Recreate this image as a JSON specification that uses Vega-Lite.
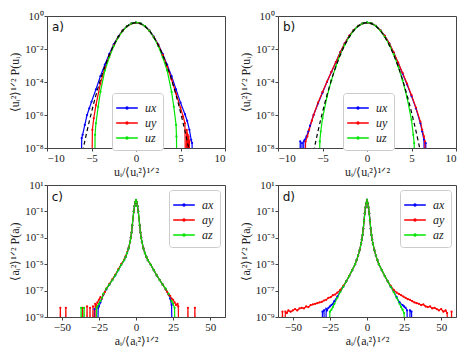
{
"$schema": "https://vega.github.io/schema/vega-lite/v6.json",
"padding": {"left": 7, "top": 9, "right": 5, "bottom": 2},
"datasets": {
"a": [
{"s":"ux","x":-6.2,"p":1e-12},{"s":"ux","x":-6.1,"p":3.98e-8},{"s":"ux","x":-6.0,"p":6.31e-8},{"s":"ux","x":-5.75,"p":2.51e-7},{"s":"ux","x":-5.5,"p":1e-6},{"s":"ux","x":-5.25,"p":2.51e-6},{"s":"ux","x":-5,"p":6.31e-6},{"s":"ux","x":-4.5,"p":3.55e-5},{"s":"ux","x":-4,"p":2.24e-4},{"s":"ux","x":-3.5,"p":1.12e-3},{"s":"ux","x":-3,"p":5.01e-3},{"s":"ux","x":-2.5,"p":0.0191},{"s":"ux","x":-2,"p":0.0562},{"s":"ux","x":-1.5,"p":0.132},{"s":"ux","x":-1,"p":0.245},{"s":"ux","x":-0.5,"p":0.355},{"s":"ux","x":0,"p":0.398},{"s":"ux","x":0.5,"p":0.355},{"s":"ux","x":1,"p":0.245},{"s":"ux","x":1.5,"p":0.132},{"s":"ux","x":2,"p":0.0562},{"s":"ux","x":2.5,"p":0.0186},{"s":"ux","x":3,"p":5.01e-3},{"s":"ux","x":3.5,"p":1.12e-3},{"s":"ux","x":4,"p":2.24e-4},{"s":"ux","x":4.5,"p":3.55e-5},{"s":"ux","x":5,"p":5.62e-6},{"s":"ux","x":5.5,"p":1.12e-6},{"s":"ux","x":5.75,"p":4.47e-7},{"s":"ux","x":6,"p":1.26e-7},{"s":"ux","x":6.2,"p":3.16e-8},{"s":"ux","x":6.3,"p":2e-8},{"s":"ux","x":6.4,"p":1e-12},
{"s":"uy","x":-5.0,"p":1e-12},{"s":"uy","x":-4.9,"p":1.26e-7},{"s":"uy","x":-4.75,"p":6.31e-7},{"s":"uy","x":-4.5,"p":3.98e-6},{"s":"uy","x":-4,"p":7.94e-5},{"s":"uy","x":-3.5,"p":7.08e-4},{"s":"uy","x":-3,"p":3.98e-3},{"s":"uy","x":-2.5,"p":0.0166},{"s":"uy","x":-2,"p":0.0525},{"s":"uy","x":-1.5,"p":0.129},{"s":"uy","x":-1,"p":0.24},{"s":"uy","x":-0.5,"p":0.347},{"s":"uy","x":0,"p":0.398},{"s":"uy","x":0.5,"p":0.347},{"s":"uy","x":1,"p":0.24},{"s":"uy","x":1.5,"p":0.129},{"s":"uy","x":2,"p":0.0537},{"s":"uy","x":2.5,"p":0.0178},{"s":"uy","x":3,"p":4.47e-3},{"s":"uy","x":3.5,"p":8.91e-4},{"s":"uy","x":4,"p":1.41e-4},{"s":"uy","x":4.5,"p":2e-5},{"s":"uy","x":5,"p":2.82e-6},{"s":"uy","x":5.3,"p":7.94e-7},{"s":"uy","x":5.5,"p":3.16e-7},{"s":"uy","x":5.6,"p":1e-12},{"s":"uy","x":5.7,"p":1.26e-7},{"s":"uy","x":5.8,"p":6.31e-8},{"s":"uy","x":5.85,"p":1e-12},{"s":"uy","x":5.9,"p":5.01e-8},{"s":"uy","x":6,"p":2.51e-8},{"s":"uy","x":6.05,"p":1e-12},
{"s":"uz","x":-4.65,"p":1e-12},{"s":"uz","x":-4.6,"p":6.31e-8},{"s":"uz","x":-4.5,"p":3.16e-7},{"s":"uz","x":-4.25,"p":3.16e-6},{"s":"uz","x":-4,"p":2.51e-5},{"s":"uz","x":-3.5,"p":5.01e-4},{"s":"uz","x":-3,"p":3.16e-3},{"s":"uz","x":-2.5,"p":0.0151},{"s":"uz","x":-2,"p":0.0501},{"s":"uz","x":-1.5,"p":0.126},{"s":"uz","x":-1,"p":0.24},{"s":"uz","x":-0.5,"p":0.355},{"s":"uz","x":0,"p":0.407},{"s":"uz","x":0.5,"p":0.355},{"s":"uz","x":1,"p":0.24},{"s":"uz","x":1.5,"p":0.126},{"s":"uz","x":2,"p":0.0501},{"s":"uz","x":2.5,"p":0.0151},{"s":"uz","x":3,"p":3.16e-3},{"s":"uz","x":3.5,"p":5.01e-4},{"s":"uz","x":4,"p":2.51e-5},{"s":"uz","x":4.25,"p":3.16e-6},{"s":"uz","x":4.5,"p":2.51e-7},{"s":"uz","x":4.55,"p":5.01e-8},{"s":"uz","x":4.6,"p":1e-12}
],
"g": [
{"x":-6,"p":6.08e-9},{"x":-5.75,"p":2.64e-8},{"x":-5.5,"p":1.08e-7},{"x":-5.25,"p":4.1e-7},{"x":-5,"p":1.49e-6},{"x":-4.75,"p":5.02e-6},{"x":-4.5,"p":1.6e-5},{"x":-4.25,"p":4.78e-5},{"x":-4,"p":1.34e-4},{"x":-3.75,"p":3.53e-4},{"x":-3.5,"p":8.73e-4},{"x":-3,"p":4.43e-3},{"x":-2.5,"p":0.0175},{"x":-2,"p":0.054},{"x":-1.5,"p":0.1295},{"x":-1,"p":0.242},{"x":-0.5,"p":0.352},{"x":0,"p":0.399},{"x":0.5,"p":0.352},{"x":1,"p":0.242},{"x":1.5,"p":0.1295},{"x":2,"p":0.054},{"x":2.5,"p":0.0175},{"x":3,"p":4.43e-3},{"x":3.5,"p":8.73e-4},{"x":3.75,"p":3.53e-4},{"x":4,"p":1.34e-4},{"x":4.25,"p":4.78e-5},{"x":4.5,"p":1.6e-5},{"x":4.75,"p":5.02e-6},{"x":5,"p":1.49e-6},{"x":5.25,"p":4.1e-7},{"x":5.5,"p":1.08e-7},{"x":5.75,"p":2.64e-8},{"x":6,"p":6.08e-9}
],
"b": [
{"s":"ux","x":-7.6,"p":1e-12},{"s":"ux","x":-7.5,"p":2.51e-8},{"s":"ux","x":-7.4,"p":1e-12},{"s":"ux","x":-7.3,"p":2e-8},{"s":"ux","x":-7.2,"p":1e-12},{"s":"ux","x":-7.1,"p":2.51e-8},{"s":"ux","x":-7,"p":3.16e-8},{"s":"ux","x":-6.8,"p":5.01e-8},{"s":"ux","x":-6.6,"p":1e-7},{"s":"ux","x":-6.4,"p":2.24e-7},{"s":"ux","x":-6,"p":1e-6},{"s":"ux","x":-5.5,"p":5.01e-6},{"s":"ux","x":-5,"p":2.24e-5},{"s":"ux","x":-4.5,"p":1e-4},{"s":"ux","x":-4,"p":3.98e-4},{"s":"ux","x":-3.5,"p":1.58e-3},{"s":"ux","x":-3,"p":6.31e-3},{"s":"ux","x":-2.5,"p":0.0219},{"s":"ux","x":-2,"p":0.0631},{"s":"ux","x":-1.5,"p":0.141},{"s":"ux","x":-1,"p":0.251},{"s":"ux","x":-0.5,"p":0.355},{"s":"ux","x":0,"p":0.398},{"s":"ux","x":0.5,"p":0.355},{"s":"ux","x":1,"p":0.251},{"s":"ux","x":1.5,"p":0.141},{"s":"ux","x":2,"p":0.0631},{"s":"ux","x":2.5,"p":0.0219},{"s":"ux","x":3,"p":6.03e-3},{"s":"ux","x":3.5,"p":1.41e-3},{"s":"ux","x":4,"p":3.16e-4},{"s":"ux","x":4.5,"p":7.08e-5},{"s":"ux","x":5,"p":1.41e-5},{"s":"ux","x":5.5,"p":2.51e-6},{"s":"ux","x":6,"p":3.16e-7},{"s":"ux","x":6.2,"p":1e-7},{"s":"ux","x":6.4,"p":3.16e-8},{"s":"ux","x":6.5,"p":1e-12},{"s":"ux","x":6.6,"p":2e-8},{"s":"ux","x":6.7,"p":1e-12},
{"s":"uy","x":-7,"p":1e-12},{"s":"uy","x":-6.9,"p":2.51e-8},{"s":"uy","x":-6.7,"p":5.01e-8},{"s":"uy","x":-6.5,"p":1.26e-7},{"s":"uy","x":-6.2,"p":4.47e-7},{"s":"uy","x":-6,"p":1e-6},{"s":"uy","x":-5.5,"p":5.62e-6},{"s":"uy","x":-5,"p":2.51e-5},{"s":"uy","x":-4.5,"p":1.05e-4},{"s":"uy","x":-4,"p":4.17e-4},{"s":"uy","x":-3.5,"p":1.58e-3},{"s":"uy","x":-3,"p":6.31e-3},{"s":"uy","x":-2.5,"p":0.0219},{"s":"uy","x":-2,"p":0.0631},{"s":"uy","x":-1.5,"p":0.141},{"s":"uy","x":-1,"p":0.251},{"s":"uy","x":-0.5,"p":0.355},{"s":"uy","x":0,"p":0.398},{"s":"uy","x":0.5,"p":0.355},{"s":"uy","x":1,"p":0.251},{"s":"uy","x":1.5,"p":0.141},{"s":"uy","x":2,"p":0.0631},{"s":"uy","x":2.5,"p":0.0219},{"s":"uy","x":3,"p":6.31e-3},{"s":"uy","x":3.5,"p":1.48e-3},{"s":"uy","x":4,"p":3.55e-4},{"s":"uy","x":4.5,"p":7.94e-5},{"s":"uy","x":5,"p":1.58e-5},{"s":"uy","x":5.5,"p":2.82e-6},{"s":"uy","x":6,"p":3.98e-7},{"s":"uy","x":6.2,"p":1.26e-7},{"s":"uy","x":6.4,"p":5.01e-8},{"s":"uy","x":6.5,"p":2.51e-8},{"s":"uy","x":6.6,"p":1e-12},
{"s":"uz","x":-5.4,"p":1e-12},{"s":"uz","x":-5.3,"p":2.51e-8},{"s":"uz","x":-5.2,"p":1e-7},{"s":"uz","x":-5,"p":6.31e-7},{"s":"uz","x":-4.5,"p":1.26e-5},{"s":"uz","x":-4,"p":1.26e-4},{"s":"uz","x":-3.5,"p":8.91e-4},{"s":"uz","x":-3,"p":4.79e-3},{"s":"uz","x":-2.5,"p":0.0182},{"s":"uz","x":-2,"p":0.055},{"s":"uz","x":-1.5,"p":0.132},{"s":"uz","x":-1,"p":0.245},{"s":"uz","x":-0.5,"p":0.355},{"s":"uz","x":0,"p":0.407},{"s":"uz","x":0.5,"p":0.355},{"s":"uz","x":1,"p":0.245},{"s":"uz","x":1.5,"p":0.132},{"s":"uz","x":2,"p":0.055},{"s":"uz","x":2.5,"p":0.0182},{"s":"uz","x":3,"p":4.79e-3},{"s":"uz","x":3.5,"p":8.91e-4},{"s":"uz","x":4,"p":1.26e-4},{"s":"uz","x":4.5,"p":1.12e-5},{"s":"uz","x":5,"p":5.01e-7},{"s":"uz","x":5.2,"p":6.31e-8},{"s":"uz","x":5.3,"p":2e-8},{"s":"uz","x":5.4,"p":1e-12}
],
"c": [
{"s":"ax","x":-28.5,"p":1e-12},{"s":"ax","x":-28,"p":3.98e-9},{"s":"ax","x":-27.5,"p":1e-12},{"s":"ax","x":-26,"p":1e-12},{"s":"ax","x":-25.5,"p":5.01e-9},{"s":"ax","x":-25,"p":6.31e-9},{"s":"ax","x":-24,"p":1.26e-8},{"s":"ax","x":-23,"p":2.51e-8},{"s":"ax","x":-22,"p":5.01e-8},{"s":"ax","x":-20,"p":1.26e-7},{"s":"ax","x":-18,"p":2.82e-7},{"s":"ax","x":-16,"p":6.31e-7},{"s":"ax","x":-14,"p":1.41e-6},{"s":"ax","x":-12,"p":3.55e-6},{"s":"ax","x":-10,"p":8.91e-6},{"s":"ax","x":-8,"p":2e-5},{"s":"ax","x":-7,"p":3.55e-5},{"s":"ax","x":-6,"p":7.08e-5},{"s":"ax","x":-5,"p":1.58e-4},{"s":"ax","x":-4,"p":5.01e-4},{"s":"ax","x":-3.5,"p":1e-3},{"s":"ax","x":-3,"p":2.51e-3},{"s":"ax","x":-2.5,"p":8.91e-3},{"s":"ax","x":-2,"p":0.0316},{"s":"ax","x":-1.5,"p":0.1},{"s":"ax","x":-1,"p":0.251},{"s":"ax","x":-0.5,"p":0.501},{"s":"ax","x":0,"p":0.708},{"s":"ax","x":0.5,"p":0.501},{"s":"ax","x":1,"p":0.251},{"s":"ax","x":1.5,"p":0.1},{"s":"ax","x":2,"p":0.0316},{"s":"ax","x":2.5,"p":8.91e-3},{"s":"ax","x":3,"p":2.51e-3},{"s":"ax","x":3.5,"p":1e-3},{"s":"ax","x":4,"p":5.01e-4},{"s":"ax","x":5,"p":1.58e-4},{"s":"ax","x":6,"p":7.08e-5},{"s":"ax","x":7,"p":3.55e-5},{"s":"ax","x":8,"p":2e-5},{"s":"ax","x":10,"p":8.91e-6},{"s":"ax","x":12,"p":3.55e-6},{"s":"ax","x":14,"p":1.41e-6},{"s":"ax","x":16,"p":6.31e-7},{"s":"ax","x":18,"p":2.82e-7},{"s":"ax","x":20,"p":1.26e-7},{"s":"ax","x":22,"p":5.01e-8},{"s":"ax","x":23,"p":2.51e-8},{"s":"ax","x":24,"p":7.94e-9},{"s":"ax","x":24.5,"p":1e-12},
{"s":"ay","x":-51.5,"p":1e-12},{"s":"ay","x":-51,"p":5.01e-9},{"s":"ay","x":-50.5,"p":1e-12},{"s":"ay","x":-47.8,"p":1e-12},{"s":"ay","x":-47.3,"p":5.01e-9},{"s":"ay","x":-46.8,"p":1e-12},{"s":"ay","x":-36.5,"p":1e-12},{"s":"ay","x":-36,"p":5.01e-9},{"s":"ay","x":-35.5,"p":1e-12},{"s":"ay","x":-33.5,"p":1e-12},{"s":"ay","x":-33,"p":6.31e-9},{"s":"ay","x":-32.5,"p":1e-12},{"s":"ay","x":-31.5,"p":1e-12},{"s":"ay","x":-31,"p":5.01e-9},{"s":"ay","x":-30.5,"p":1e-12},{"s":"ay","x":-29.5,"p":1e-12},{"s":"ay","x":-29,"p":6.31e-9},{"s":"ay","x":-28.5,"p":1e-12},{"s":"ay","x":-28,"p":1e-12},{"s":"ay","x":-27.5,"p":1e-8},{"s":"ay","x":-27,"p":6.31e-9},{"s":"ay","x":-26,"p":1.26e-8},{"s":"ay","x":-25,"p":2e-8},{"s":"ay","x":-24,"p":3.16e-8},{"s":"ay","x":-23,"p":2.51e-8},{"s":"ay","x":-22,"p":5.01e-8},{"s":"ay","x":-21,"p":7.94e-8},{"s":"ay","x":-20,"p":1.41e-7},{"s":"ay","x":-18,"p":3.16e-7},{"s":"ay","x":-16,"p":7.08e-7},{"s":"ay","x":-14,"p":1.58e-6},{"s":"ay","x":-12,"p":3.98e-6},{"s":"ay","x":-10,"p":1e-5},{"s":"ay","x":-8,"p":2.24e-5},{"s":"ay","x":-7,"p":3.98e-5},{"s":"ay","x":-6,"p":7.94e-5},{"s":"ay","x":-5,"p":1.68e-4},{"s":"ay","x":-4,"p":5.01e-4},{"s":"ay","x":-3.5,"p":1e-3},{"s":"ay","x":-3,"p":2.51e-3},{"s":"ay","x":-2.5,"p":8.91e-3},{"s":"ay","x":-2,"p":0.0316},{"s":"ay","x":-1.5,"p":0.1},{"s":"ay","x":-1,"p":0.251},{"s":"ay","x":-0.5,"p":0.501},{"s":"ay","x":0,"p":0.68},{"s":"ay","x":0.5,"p":0.501},{"s":"ay","x":1,"p":0.251},{"s":"ay","x":1.5,"p":0.1},{"s":"ay","x":2,"p":0.0316},{"s":"ay","x":2.5,"p":8.91e-3},{"s":"ay","x":3,"p":2.51e-3},{"s":"ay","x":3.5,"p":1e-3},{"s":"ay","x":4,"p":5.01e-4},{"s":"ay","x":5,"p":1.58e-4},{"s":"ay","x":6,"p":7.08e-5},{"s":"ay","x":7,"p":3.55e-5},{"s":"ay","x":8,"p":2e-5},{"s":"ay","x":10,"p":8.91e-6},{"s":"ay","x":12,"p":3.55e-6},{"s":"ay","x":14,"p":1.41e-6},{"s":"ay","x":16,"p":6.31e-7},{"s":"ay","x":18,"p":2.82e-7},{"s":"ay","x":20,"p":1.26e-7},{"s":"ay","x":21,"p":7.94e-8},{"s":"ay","x":22,"p":5.01e-8},{"s":"ay","x":23,"p":3.98e-8},{"s":"ay","x":24,"p":2.51e-8},{"s":"ay","x":25,"p":2e-8},{"s":"ay","x":26,"p":1.26e-8},{"s":"ay","x":27,"p":7.94e-9},{"s":"ay","x":28,"p":1e-8},{"s":"ay","x":28.5,"p":6.31e-9},{"s":"ay","x":29,"p":1e-12},{"s":"ay","x":34.5,"p":1e-12},{"s":"ay","x":35,"p":5.01e-9},{"s":"ay","x":35.5,"p":1e-12},{"s":"ay","x":39.2,"p":1e-12},{"s":"ay","x":39.7,"p":5.01e-9},{"s":"ay","x":40.2,"p":1e-12},
{"s":"az","x":-37.5,"p":1e-12},{"s":"az","x":-37,"p":5.01e-9},{"s":"az","x":-36.5,"p":1e-12},{"s":"az","x":-35.5,"p":1e-12},{"s":"az","x":-35,"p":5.01e-9},{"s":"az","x":-34.5,"p":1e-12},{"s":"az","x":-27,"p":1e-12},{"s":"az","x":-26.5,"p":5.01e-9},{"s":"az","x":-26,"p":6.31e-9},{"s":"az","x":-25,"p":1e-8},{"s":"az","x":-24,"p":1.58e-8},{"s":"az","x":-23,"p":2.82e-8},{"s":"az","x":-22,"p":5.62e-8},{"s":"az","x":-20,"p":1.41e-7},{"s":"az","x":-18,"p":2.82e-7},{"s":"az","x":-16,"p":6.31e-7},{"s":"az","x":-14,"p":1.41e-6},{"s":"az","x":-12,"p":3.55e-6},{"s":"az","x":-10,"p":8.91e-6},{"s":"az","x":-8,"p":2e-5},{"s":"az","x":-7,"p":3.55e-5},{"s":"az","x":-6,"p":7.08e-5},{"s":"az","x":-5,"p":1.58e-4},{"s":"az","x":-4,"p":5.01e-4},{"s":"az","x":-3.5,"p":1e-3},{"s":"az","x":-3,"p":2.51e-3},{"s":"az","x":-2.5,"p":8.91e-3},{"s":"az","x":-2,"p":0.0316},{"s":"az","x":-1.5,"p":0.1},{"s":"az","x":-1,"p":0.251},{"s":"az","x":-0.5,"p":0.501},{"s":"az","x":0,"p":0.72},{"s":"az","x":0.5,"p":0.501},{"s":"az","x":1,"p":0.251},{"s":"az","x":1.5,"p":0.1},{"s":"az","x":2,"p":0.0316},{"s":"az","x":2.5,"p":8.91e-3},{"s":"az","x":3,"p":2.51e-3},{"s":"az","x":3.5,"p":1e-3},{"s":"az","x":4,"p":5.01e-4},{"s":"az","x":5,"p":1.58e-4},{"s":"az","x":6,"p":7.08e-5},{"s":"az","x":7,"p":3.55e-5},{"s":"az","x":8,"p":2e-5},{"s":"az","x":10,"p":8.91e-6},{"s":"az","x":12,"p":3.55e-6},{"s":"az","x":14,"p":1.41e-6},{"s":"az","x":16,"p":6.31e-7},{"s":"az","x":18,"p":2.82e-7},{"s":"az","x":20,"p":1.41e-7},{"s":"az","x":22,"p":5.62e-8},{"s":"az","x":24,"p":1.58e-8},{"s":"az","x":25,"p":1e-8},{"s":"az","x":26,"p":5.01e-9},{"s":"az","x":26.5,"p":1e-12}
],
"d": [
{"s":"ax","x":-31,"p":1e-12},{"s":"ax","x":-30,"p":2.51e-9},{"s":"ax","x":-29,"p":3.16e-9},{"s":"ax","x":-28.5,"p":1e-12},{"s":"ax","x":-28,"p":1e-12},{"s":"ax","x":-27.5,"p":3.98e-9},{"s":"ax","x":-27,"p":3.16e-9},{"s":"ax","x":-26,"p":5.01e-9},{"s":"ax","x":-25,"p":6.31e-9},{"s":"ax","x":-24,"p":7.94e-9},{"s":"ax","x":-23,"p":1e-8},{"s":"ax","x":-22,"p":1.58e-8},{"s":"ax","x":-20,"p":3.55e-8},{"s":"ax","x":-18,"p":8.91e-8},{"s":"ax","x":-16,"p":2e-7},{"s":"ax","x":-14,"p":5.01e-7},{"s":"ax","x":-12,"p":1.26e-6},{"s":"ax","x":-10,"p":3.55e-6},{"s":"ax","x":-8,"p":1e-5},{"s":"ax","x":-7,"p":2e-5},{"s":"ax","x":-6,"p":4.47e-5},{"s":"ax","x":-5,"p":1.12e-4},{"s":"ax","x":-4,"p":3.55e-4},{"s":"ax","x":-3.5,"p":7.08e-4},{"s":"ax","x":-3,"p":1.58e-3},{"s":"ax","x":-2.5,"p":5.01e-3},{"s":"ax","x":-2,"p":0.02},{"s":"ax","x":-1.5,"p":0.0708},{"s":"ax","x":-1,"p":0.2},{"s":"ax","x":-0.5,"p":0.447},{"s":"ax","x":0,"p":0.708},{"s":"ax","x":0.5,"p":0.447},{"s":"ax","x":1,"p":0.2},{"s":"ax","x":1.5,"p":0.0708},{"s":"ax","x":2,"p":0.02},{"s":"ax","x":2.5,"p":5.01e-3},{"s":"ax","x":3,"p":1.58e-3},{"s":"ax","x":3.5,"p":7.08e-4},{"s":"ax","x":4,"p":3.55e-4},{"s":"ax","x":5,"p":1.12e-4},{"s":"ax","x":6,"p":4.47e-5},{"s":"ax","x":7,"p":2e-5},{"s":"ax","x":8,"p":1e-5},{"s":"ax","x":10,"p":3.55e-6},{"s":"ax","x":12,"p":1.26e-6},{"s":"ax","x":14,"p":5.01e-7},{"s":"ax","x":16,"p":2e-7},{"s":"ax","x":18,"p":8.91e-8},{"s":"ax","x":20,"p":3.16e-8},{"s":"ax","x":22,"p":1.26e-8},{"s":"ax","x":24,"p":7.94e-9},{"s":"ax","x":25,"p":6.31e-9},{"s":"ax","x":26,"p":5.01e-9},{"s":"ax","x":27,"p":3.16e-9},{"s":"ax","x":27.5,"p":1e-12},{"s":"ax","x":28.5,"p":1e-12},{"s":"ax","x":29,"p":3.16e-9},{"s":"ax","x":30,"p":2.51e-9},{"s":"ax","x":31,"p":1e-12},
{"s":"ay","x":-58,"p":1e-12},{"s":"ay","x":-57,"p":2.51e-9},{"s":"ay","x":-56,"p":1e-12},{"s":"ay","x":-55,"p":2.51e-9},{"s":"ay","x":-54,"p":2e-9},{"s":"ay","x":-53,"p":3.16e-9},{"s":"ay","x":-51.5,"p":2.51e-9},{"s":"ay","x":-50,"p":3.16e-9},{"s":"ay","x":-48.5,"p":3.98e-9},{"s":"ay","x":-47,"p":3.16e-9},{"s":"ay","x":-45.5,"p":4.47e-9},{"s":"ay","x":-44,"p":5.01e-9},{"s":"ay","x":-42.5,"p":4.47e-9},{"s":"ay","x":-41,"p":6.31e-9},{"s":"ay","x":-39.5,"p":5.62e-9},{"s":"ay","x":-38,"p":7.94e-9},{"s":"ay","x":-36.5,"p":8.91e-9},{"s":"ay","x":-35,"p":1e-8},{"s":"ay","x":-33.5,"p":1.12e-8},{"s":"ay","x":-32,"p":1.26e-8},{"s":"ay","x":-30.5,"p":1.41e-8},{"s":"ay","x":-29,"p":1.78e-8},{"s":"ay","x":-27.5,"p":2e-8},{"s":"ay","x":-26,"p":2.82e-8},{"s":"ay","x":-24.5,"p":3.16e-8},{"s":"ay","x":-23,"p":4.47e-8},{"s":"ay","x":-21.5,"p":5.01e-8},{"s":"ay","x":-20,"p":7.08e-8},{"s":"ay","x":-18,"p":1.12e-7},{"s":"ay","x":-16,"p":2.24e-7},{"s":"ay","x":-14,"p":5.01e-7},{"s":"ay","x":-12,"p":1.26e-6},{"s":"ay","x":-10,"p":3.55e-6},{"s":"ay","x":-8,"p":1e-5},{"s":"ay","x":-7,"p":2e-5},{"s":"ay","x":-6,"p":4.47e-5},{"s":"ay","x":-5,"p":1.12e-4},{"s":"ay","x":-4,"p":3.55e-4},{"s":"ay","x":-3.5,"p":7.08e-4},{"s":"ay","x":-3,"p":1.58e-3},{"s":"ay","x":-2.5,"p":5.01e-3},{"s":"ay","x":-2,"p":0.02},{"s":"ay","x":-1.5,"p":0.0708},{"s":"ay","x":-1,"p":0.2},{"s":"ay","x":-0.5,"p":0.447},{"s":"ay","x":0,"p":0.69},{"s":"ay","x":0.5,"p":0.447},{"s":"ay","x":1,"p":0.2},{"s":"ay","x":1.5,"p":0.0708},{"s":"ay","x":2,"p":0.02},{"s":"ay","x":2.5,"p":5.01e-3},{"s":"ay","x":3,"p":1.58e-3},{"s":"ay","x":3.5,"p":7.08e-4},{"s":"ay","x":4,"p":3.55e-4},{"s":"ay","x":5,"p":1.12e-4},{"s":"ay","x":6,"p":4.47e-5},{"s":"ay","x":7,"p":2e-5},{"s":"ay","x":8,"p":1e-5},{"s":"ay","x":10,"p":3.55e-6},{"s":"ay","x":12,"p":1.26e-6},{"s":"ay","x":14,"p":5.01e-7},{"s":"ay","x":16,"p":2.24e-7},{"s":"ay","x":18,"p":1.12e-7},{"s":"ay","x":20,"p":7.08e-8},{"s":"ay","x":21.5,"p":5.62e-8},{"s":"ay","x":23,"p":4.47e-8},{"s":"ay","x":24.5,"p":3.55e-8},{"s":"ay","x":26,"p":2.82e-8},{"s":"ay","x":27.5,"p":2.24e-8},{"s":"ay","x":29,"p":2e-8},{"s":"ay","x":30.5,"p":1.58e-8},{"s":"ay","x":32,"p":1.26e-8},{"s":"ay","x":33.5,"p":1.12e-8},{"s":"ay","x":35,"p":1e-8},{"s":"ay","x":36.5,"p":7.94e-9},{"s":"ay","x":38,"p":8.91e-9},{"s":"ay","x":39.5,"p":6.31e-9},{"s":"ay","x":41,"p":5.62e-9},{"s":"ay","x":42.5,"p":6.31e-9},{"s":"ay","x":44,"p":4.47e-9},{"s":"ay","x":45.5,"p":5.01e-9},{"s":"ay","x":47,"p":3.98e-9},{"s":"ay","x":48.5,"p":3.16e-9},{"s":"ay","x":50,"p":3.98e-9},{"s":"ay","x":51.5,"p":2.51e-9},{"s":"ay","x":53,"p":3.16e-9},{"s":"ay","x":54,"p":2e-9},{"s":"ay","x":55,"p":1e-12},{"s":"ay","x":56.5,"p":1e-12},{"s":"ay","x":57,"p":2.51e-9},{"s":"ay","x":57.5,"p":1e-12},
{"s":"az","x":-26,"p":1e-12},{"s":"az","x":-25,"p":2.51e-9},{"s":"az","x":-24,"p":3.55e-9},{"s":"az","x":-23,"p":5.62e-9},{"s":"az","x":-22,"p":1e-8},{"s":"az","x":-20,"p":2.82e-8},{"s":"az","x":-18,"p":7.94e-8},{"s":"az","x":-16,"p":2e-7},{"s":"az","x":-14,"p":5.01e-7},{"s":"az","x":-12,"p":1.26e-6},{"s":"az","x":-10,"p":3.55e-6},{"s":"az","x":-8,"p":1e-5},{"s":"az","x":-7,"p":2e-5},{"s":"az","x":-6,"p":4.47e-5},{"s":"az","x":-5,"p":1.12e-4},{"s":"az","x":-4,"p":3.55e-4},{"s":"az","x":-3.5,"p":7.08e-4},{"s":"az","x":-3,"p":1.58e-3},{"s":"az","x":-2.5,"p":5.01e-3},{"s":"az","x":-2,"p":0.02},{"s":"az","x":-1.5,"p":0.0708},{"s":"az","x":-1,"p":0.2},{"s":"az","x":-0.5,"p":0.447},{"s":"az","x":0,"p":0.72},{"s":"az","x":0.5,"p":0.447},{"s":"az","x":1,"p":0.2},{"s":"az","x":1.5,"p":0.0708},{"s":"az","x":2,"p":0.02},{"s":"az","x":2.5,"p":5.01e-3},{"s":"az","x":3,"p":1.58e-3},{"s":"az","x":3.5,"p":7.08e-4},{"s":"az","x":4,"p":3.55e-4},{"s":"az","x":5,"p":1.12e-4},{"s":"az","x":6,"p":4.47e-5},{"s":"az","x":7,"p":2e-5},{"s":"az","x":8,"p":1e-5},{"s":"az","x":10,"p":3.55e-6},{"s":"az","x":12,"p":1.26e-6},{"s":"az","x":14,"p":5.01e-7},{"s":"az","x":16,"p":2e-7},{"s":"az","x":18,"p":7.94e-8},{"s":"az","x":20,"p":2.82e-8},{"s":"az","x":22,"p":1e-8},{"s":"az","x":23,"p":5.62e-9},{"s":"az","x":24,"p":3.55e-9},{"s":"az","x":25,"p":2e-9},{"s":"az","x":25.5,"p":1e-12}
]
},
"concat": [
{
"width": 178, "height": 132,
"layer": [
{"data": {"name": "a"}, "mark": {"type": "line", "strokeWidth": 1.2, "clip": true, "point": {"filled": true, "size": 5, "clip": true}},
 "encoding": {
  "x": {"field": "x", "type": "quantitative", "scale": {"domain": [-10, 10], "nice": false}, "axis": {"values": [-10, -5, 0, 5, 10], "title": "uᵢ/⟨uᵢ²⟩¹ᐟ²"}},
  "y": {"field": "p", "type": "quantitative", "scale": {"type": "log", "domain": [1e-8, 1], "nice": false}, "axis": {"values": [1, 0.01, 0.0001, 1e-6, 1e-8], "title": "⟨uᵢ²⟩¹ᐟ² P(uᵢ)", "labelExpr": "'10' + (round(log(datum.value)/LN10) < 0 ? '⁻' : '') + ['⁰','¹','²','³','⁴','⁵','⁶','⁷','⁸','⁹'][abs(round(log(datum.value)/LN10))]"}},
  "color": {"field": "s", "type": "nominal", "scale": {"domain": ["ux", "uy", "uz"], "range": ["#0000ff", "#ff0000", "#00e600"]}, "legend": {"orient": "none", "legendX": 65, "legendY": 77, "title": null}}
 }},
{"data": {"name": "g"}, "mark": {"type": "line", "color": "black", "strokeWidth": 1.2, "strokeDash": [4, 3], "clip": true},
 "encoding": {"x": {"field": "x", "type": "quantitative"}, "y": {"field": "p", "type": "quantitative"}}},
{"data": {"values": [{"x": -9.45, "p": 0.22, "t": "a)"}]}, "mark": {"type": "text", "align": "left", "baseline": "middle", "font": "DejaVu Sans", "fontSize": 12, "color": "#111"},
 "encoding": {"x": {"field": "x", "type": "quantitative"}, "y": {"field": "p", "type": "quantitative"}, "text": {"field": "t"}}}
]
},
{
"width": 178, "height": 132,
"layer": [
{"data": {"name": "b"}, "mark": {"type": "line", "strokeWidth": 1.2, "clip": true, "point": {"filled": true, "size": 5, "clip": true}},
 "encoding": {
  "x": {"field": "x", "type": "quantitative", "scale": {"domain": [-10, 10], "nice": false}, "axis": {"values": [-10, -5, 0, 5, 10], "title": "uᵢ/⟨uᵢ²⟩¹ᐟ²"}},
  "y": {"field": "p", "type": "quantitative", "scale": {"type": "log", "domain": [1e-8, 1], "nice": false}, "axis": {"values": [1, 0.01, 0.0001, 1e-6, 1e-8], "title": "⟨uᵢ²⟩¹ᐟ² P(uᵢ)", "labelExpr": "'10' + (round(log(datum.value)/LN10) < 0 ? '⁻' : '') + ['⁰','¹','²','³','⁴','⁵','⁶','⁷','⁸','⁹'][abs(round(log(datum.value)/LN10))]"}},
  "color": {"field": "s", "type": "nominal", "scale": {"domain": ["ux", "uy", "uz"], "range": ["#0000ff", "#ff0000", "#00e600"]}, "legend": {"orient": "none", "legendX": 65, "legendY": 77, "title": null}}
 }},
{"data": {"name": "g"}, "mark": {"type": "line", "color": "black", "strokeWidth": 1.2, "strokeDash": [4, 3], "clip": true},
 "encoding": {"x": {"field": "x", "type": "quantitative"}, "y": {"field": "p", "type": "quantitative"}}},
{"data": {"values": [{"x": -9.45, "p": 0.22, "t": "b)"}]}, "mark": {"type": "text", "align": "left", "baseline": "middle", "font": "DejaVu Sans", "fontSize": 12, "color": "#111"},
 "encoding": {"x": {"field": "x", "type": "quantitative"}, "y": {"field": "p", "type": "quantitative"}, "text": {"field": "t"}}}
]
},
{
"width": 178, "height": 132,
"layer": [
{"data": {"name": "c"}, "mark": {"type": "line", "strokeWidth": 1.2, "clip": true, "point": {"filled": true, "size": 5, "clip": true}},
 "encoding": {
  "x": {"field": "x", "type": "quantitative", "scale": {"domain": [-60, 60], "nice": false}, "axis": {"values": [-50, -25, 0, 25, 50], "title": "aᵢ/⟨aᵢ²⟩¹ᐟ²"}},
  "y": {"field": "p", "type": "quantitative", "scale": {"type": "log", "domain": [1e-9, 10], "nice": false}, "axis": {"values": [10, 0.1, 0.001, 1e-5, 1e-7, 1e-9], "title": "⟨aᵢ²⟩¹ᐟ² P(aᵢ)", "labelExpr": "'10' + (round(log(datum.value)/LN10) < 0 ? '⁻' : '') + ['⁰','¹','²','³','⁴','⁵','⁶','⁷','⁸','⁹'][abs(round(log(datum.value)/LN10))]"}},
  "color": {"field": "s", "type": "nominal", "scale": {"domain": ["ax", "ay", "az"], "range": ["#0000ff", "#ff0000", "#00e600"]}, "legend": {"orient": "top-right", "offset": 5, "title": null}}
 }},
{"data": {"values": [{"x": -56.8, "p": 1.3, "t": "c)"}]}, "mark": {"type": "text", "align": "left", "baseline": "middle", "font": "DejaVu Sans", "fontSize": 12, "color": "#111"},
 "encoding": {"x": {"field": "x", "type": "quantitative"}, "y": {"field": "p", "type": "quantitative"}, "text": {"field": "t"}}}
]
},
{
"width": 178, "height": 132,
"layer": [
{"data": {"name": "d"}, "mark": {"type": "line", "strokeWidth": 1.2, "clip": true, "point": {"filled": true, "size": 5, "clip": true}},
 "encoding": {
  "x": {"field": "x", "type": "quantitative", "scale": {"domain": [-60, 60], "nice": false}, "axis": {"values": [-50, -25, 0, 25, 50], "title": "aᵢ/⟨aᵢ²⟩¹ᐟ²"}},
  "y": {"field": "p", "type": "quantitative", "scale": {"type": "log", "domain": [1e-9, 10], "nice": false}, "axis": {"values": [10, 0.1, 0.001, 1e-5, 1e-7, 1e-9], "title": "⟨aᵢ²⟩¹ᐟ² P(aᵢ)", "labelExpr": "'10' + (round(log(datum.value)/LN10) < 0 ? '⁻' : '') + ['⁰','¹','²','³','⁴','⁵','⁶','⁷','⁸','⁹'][abs(round(log(datum.value)/LN10))]"}},
  "color": {"field": "s", "type": "nominal", "scale": {"domain": ["ax", "ay", "az"], "range": ["#0000ff", "#ff0000", "#00e600"]}, "legend": {"orient": "top-right", "offset": 5, "title": null}}
 }},
{"data": {"values": [{"x": -56.8, "p": 1.3, "t": "d)"}]}, "mark": {"type": "text", "align": "left", "baseline": "middle", "font": "DejaVu Sans", "fontSize": 12, "color": "#111"},
 "encoding": {"x": {"field": "x", "type": "quantitative"}, "y": {"field": "p", "type": "quantitative"}, "text": {"field": "t"}}}
]
}
],
"columns": 2,
"spacing": {"row": 0, "column": 12},
"resolve": {"scale": {"color": "independent"}, "legend": {"color": "independent"}},
"config": {
 "view": {"stroke": "#444", "strokeWidth": 1},
 "axis": {"grid": false, "labelFont": "Liberation Serif", "labelFontSize": 11, "labelColor": "#222", "titleFont": "Liberation Serif", "titleFontSize": 12, "titleFontWeight": "normal", "titleColor": "#222", "tickColor": "#444", "domainColor": "#444", "tickSize": 3, "labelPadding": 1, "titlePadding": 3},
 "legend": {"labelFont": "Liberation Serif", "labelFontSize": 12, "labelFontStyle": "italic", "labelColor": "#222", "symbolType": "M-1.35,0L1.35,0M0.12,0A0.12,0.12,0,1,1,-0.12,0A0.12,0.12,0,1,1,0.12,0", "symbolSize": 256, "symbolStrokeWidth": 1.5, "strokeColor": "#cccccc", "fillColor": "white", "padding": 6, "cornerRadius": 3, "rowPadding": 0, "labelOffset": 9}
}
}
